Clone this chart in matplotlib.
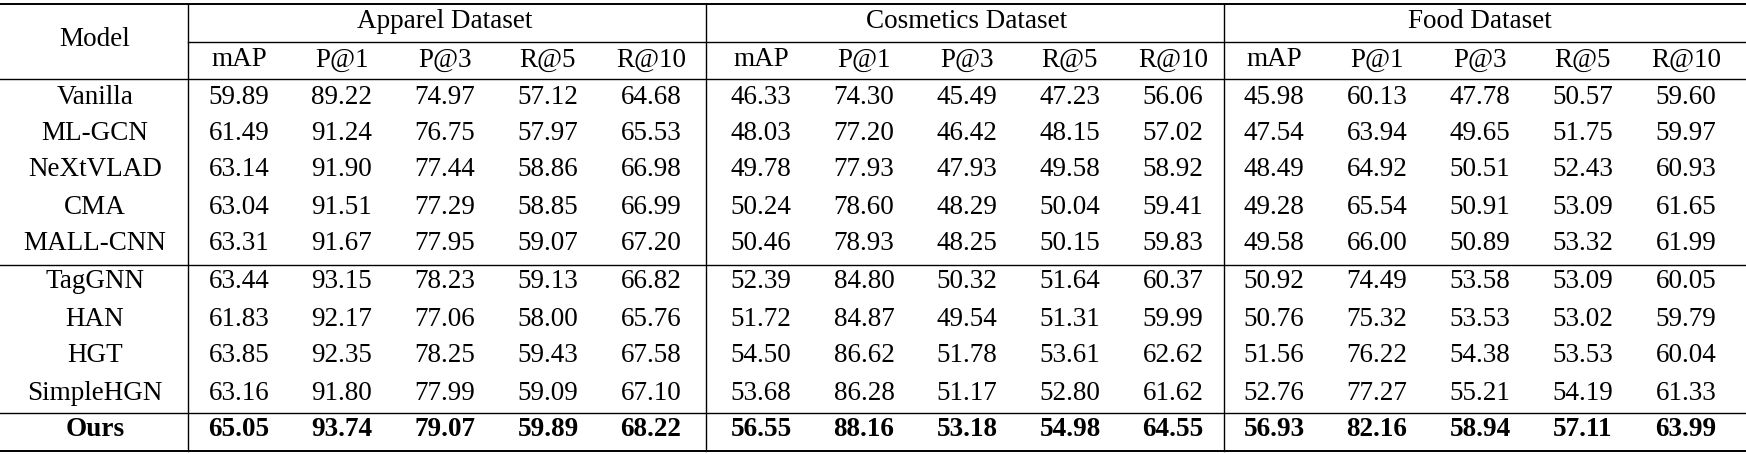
import matplotlib.pyplot as plt

plt.rcParams["font.family"] = ["Liberation Serif", "DejaVu Serif"]

models = ["Vanilla", "ML-GCN", "NeXtVLAD", "CMA", "MALL-CNN",
          "TagGNN", "HAN", "HGT", "SimpleHGN", "Ours"]
datasets = ["Apparel Dataset", "Cosmetics Dataset", "Food Dataset"]
metrics = ["mAP", "P@1", "P@3", "R@5", "R@10"]

apparel = [
    ["59.89", "89.22", "74.97", "57.12", "64.68"],
    ["61.49", "91.24", "76.75", "57.97", "65.53"],
    ["63.14", "91.90", "77.44", "58.86", "66.98"],
    ["63.04", "91.51", "77.29", "58.85", "66.99"],
    ["63.31", "91.67", "77.95", "59.07", "67.20"],
    ["63.44", "93.15", "78.23", "59.13", "66.82"],
    ["61.83", "92.17", "77.06", "58.00", "65.76"],
    ["63.85", "92.35", "78.25", "59.43", "67.58"],
    ["63.16", "91.80", "77.99", "59.09", "67.10"],
    ["65.05", "93.74", "79.07", "59.89", "68.22"],
]
cosmetics = [
    ["46.33", "74.30", "45.49", "47.23", "56.06"],
    ["48.03", "77.20", "46.42", "48.15", "57.02"],
    ["49.78", "77.93", "47.93", "49.58", "58.92"],
    ["50.24", "78.60", "48.29", "50.04", "59.41"],
    ["50.46", "78.93", "48.25", "50.15", "59.83"],
    ["52.39", "84.80", "50.32", "51.64", "60.37"],
    ["51.72", "84.87", "49.54", "51.31", "59.99"],
    ["54.50", "86.62", "51.78", "53.61", "62.62"],
    ["53.68", "86.28", "51.17", "52.80", "61.62"],
    ["56.55", "88.16", "53.18", "54.98", "64.55"],
]
food = [
    ["45.98", "60.13", "47.78", "50.57", "59.60"],
    ["47.54", "63.94", "49.65", "51.75", "59.97"],
    ["48.49", "64.92", "50.51", "52.43", "60.93"],
    ["49.28", "65.54", "50.91", "53.09", "61.65"],
    ["49.58", "66.00", "50.89", "53.32", "61.99"],
    ["50.92", "74.49", "53.58", "53.09", "60.05"],
    ["50.76", "75.32", "53.53", "53.02", "59.79"],
    ["51.56", "76.22", "54.38", "53.53", "60.04"],
    ["52.76", "77.27", "55.21", "54.19", "61.33"],
    ["56.93", "82.16", "58.94", "57.11", "63.99"],
]
tables = [apparel, cosmetics, food]

W, H = 1746, 454
fig = plt.figure(figsize=(W / 100, H / 100), dpi=100)
ax = fig.add_axes([0, 0, 1, 1])
ax.set_xlim(0, W)
ax.set_ylim(H, 0)
ax.axis("off")

fs = 19.5
model_x = 95
group_left = [188, 706, 1224]
col_w = 103
first_col = [239, 761, 1274]
row_y = [97, 133, 170, 207, 243, 282, 319, 356, 393, 430]

# rules
ax.plot([0, W], [3.5, 3.5], color="black", lw=1.4)
ax.plot([group_left[0], W], [42, 42], color="black", lw=1.0)
ax.plot([0, W], [79, 79], color="black", lw=1.0)
ax.plot([0, W], [265, 265], color="black", lw=1.0)
ax.plot([0, W], [413, 413], color="black", lw=1.0)
ax.plot([0, W], [451, 451], color="black", lw=1.4)
for gx in group_left:
    ax.plot([gx, gx], [3.5, 451], color="black", lw=1.0)

# header
ax.text(model_x, 40, "Model", ha="center", va="center", fontsize=fs)
for g, name in enumerate(datasets):
    cx = first_col[g] + 2 * col_w
    ax.text(cx, 22, name, ha="center", va="center", fontsize=fs)
    for j, m in enumerate(metrics):
        ax.text(first_col[g] + j * col_w, 60, m, ha="center", va="center", fontsize=fs)

# body
for i, name in enumerate(models):
    bold = name == "Ours"
    w = "bold" if bold else "normal"
    ax.text(model_x, row_y[i], name, ha="center", va="center", fontsize=fs, fontweight=w)
    for g, tab in enumerate(tables):
        for j, v in enumerate(tab[i]):
            ax.text(first_col[g] + j * col_w, row_y[i], v, ha="center", va="center",
                    fontsize=fs, fontweight=w)

fig.savefig("out.png", dpi=100)
